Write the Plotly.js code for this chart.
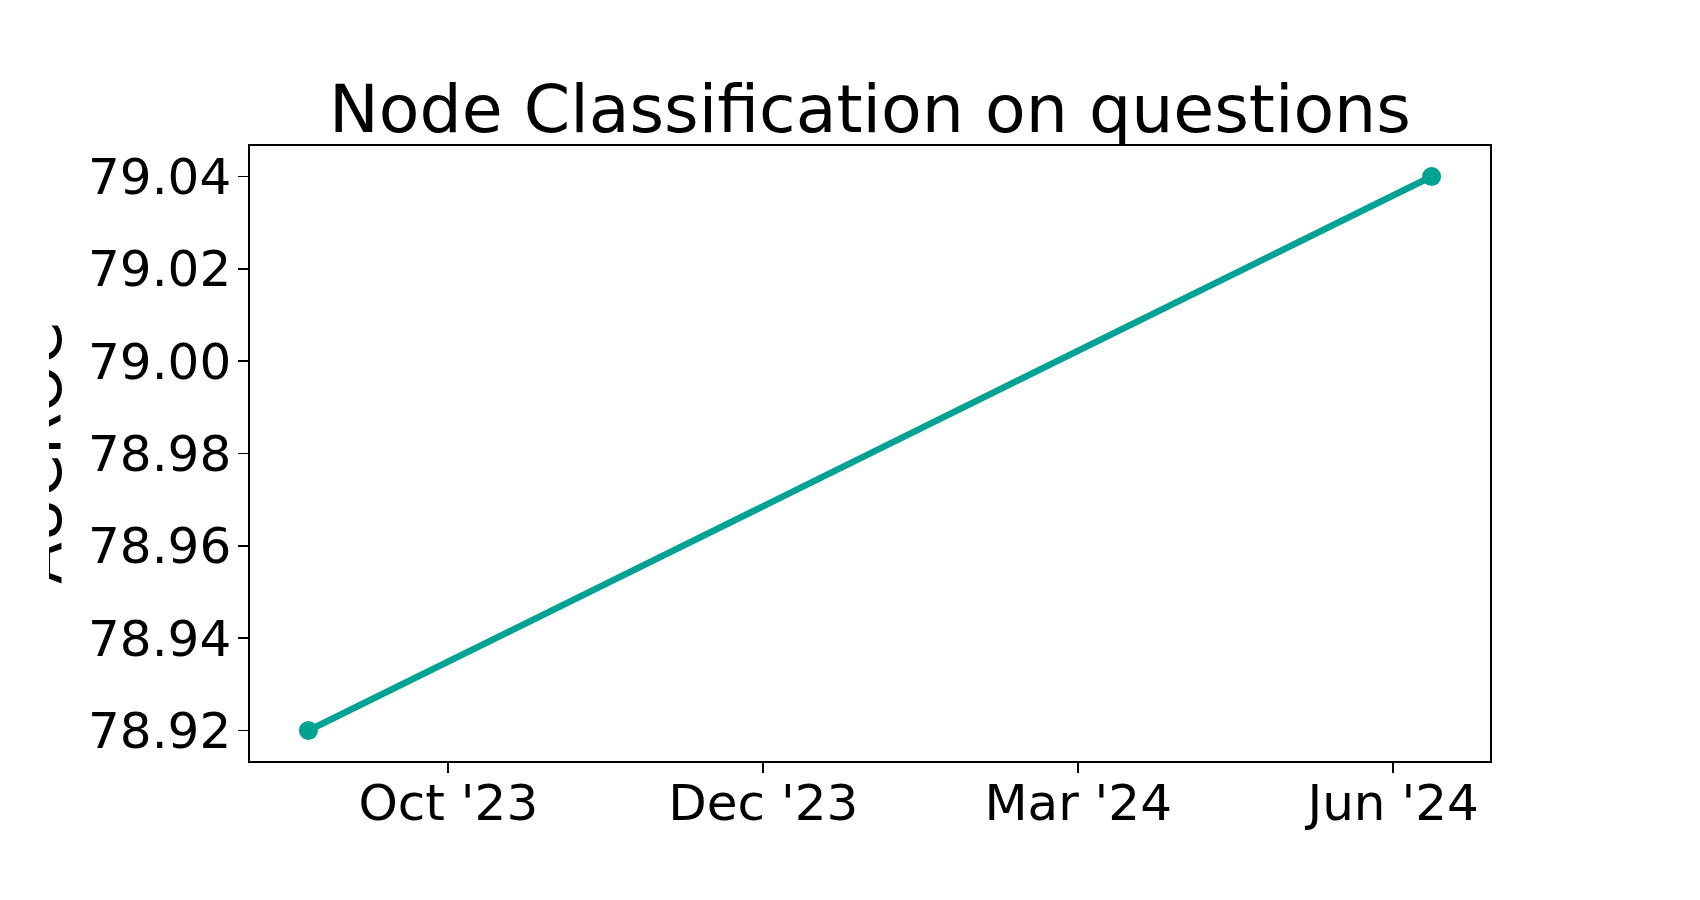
<!DOCTYPE html>
<html>
<head>
<meta charset="utf-8">
<script src="https://cdn.plot.ly/plotly-3.0.1.min.js"></script>
<style>
  html, body { margin: 0; padding: 0; background: #ffffff; }
  #clip { position: absolute; left: 49px; top: 0; width: 1651px; height: 900px; overflow: hidden; }
  #chart { position: absolute; left: -49px; top: 0; width: 1700px; height: 900px; }
</style>
</head>
<body>
<div id="clip"><div id="chart"></div></div>
<script>
// ---- data ----
const dates = ['2023-08-22', '2024-07-08'];
const aucroc = [78.92, 79.04];
const tickDates = ['2023-10-01', '2023-12-30', '2024-03-29', '2024-06-27'];
const tickLabels = ["Oct '23", "Dec '23", "Mar '24", "Jun '24"];
const yTicks = [78.92, 78.94, 78.96, 78.98, 79.00, 79.02, 79.04];
const titleText = 'Node Classification on questions';
const yLabel = 'AUCROC';

// ---- layout helpers ----
const W = 1700, H = 900;
const ml = 250, mr = 210, mt = 146, mb = 139;
const plotW = W - ml - mr;
const font = 'DejaVu Sans, sans-serif';
const teal = '#00a294';

function padRange(lo, hi, f) { const d = (hi - lo) * f; return [lo - d, hi + d]; }
const xms = dates.map(d => new Date(d + 'T00:00:00Z').getTime());
const xr = padRange(Math.min(...xms), Math.max(...xms), 0.052)
  .map(v => new Date(v).toISOString().replace('T', ' ').replace('Z', ''));
const yr = padRange(Math.min(...aucroc), Math.max(...aucroc), 0.055);

const trace = {
  x: dates, y: aucroc, type: 'scatter', mode: 'lines+markers',
  line: { color: teal, width: 6.5 },
  marker: { color: teal, size: 19 },
  cliponaxis: false,
  hoverinfo: 'skip'
};

const layout = {
  width: W, height: H,
  paper_bgcolor: '#ffffff', plot_bgcolor: '#ffffff',
  margin: { l: ml, r: mr, t: mt, b: mb, pad: 0 },
  showlegend: false,
  font: { family: font, color: '#000000' },
  title: {
    text: titleText,
    font: { family: font, size: 66.5, color: '#000000' },
    x: (ml + plotW / 2) / W, xanchor: 'center', xref: 'container',
    y: 1 - 132 / H, yanchor: 'bottom', yref: 'container'
  },
  xaxis: {
    type: 'date', range: xr,
    tickmode: 'array', tickvals: tickDates, ticktext: tickLabels,
    ticks: 'outside', ticklen: 10, tickwidth: 1.8, tickcolor: '#000',
    ticklabelstandoff: -13,
    tickfont: { family: font, size: 50, color: '#000' },
    showgrid: false, zeroline: false,
    showline: true, linecolor: '#000', linewidth: 1.8, mirror: true
  },
  yaxis: {
    range: yr,
    tickmode: 'array', tickvals: yTicks, ticktext: yTicks.map(v => v.toFixed(2)),
    ticks: 'outside', ticklen: 10, tickwidth: 1.8, tickcolor: '#000',
    ticklabelstandoff: -3,
    tickfont: { family: font, size: 50, color: '#000' },
    showgrid: false, zeroline: false,
    showline: true, linecolor: '#000', linewidth: 1.8, mirror: true
  },
  annotations: [{
    text: yLabel, textangle: -90, showarrow: false,
    font: { family: font, size: 61, color: '#000' },
    xref: 'paper', x: (77 - ml) / plotW, xanchor: 'right',
    yref: 'paper', y: 0.5, yanchor: 'middle'
  }]
};

Plotly.newPlot('chart', [trace], layout, { displayModeBar: false, staticPlot: true });
</script>
</body>
</html>
